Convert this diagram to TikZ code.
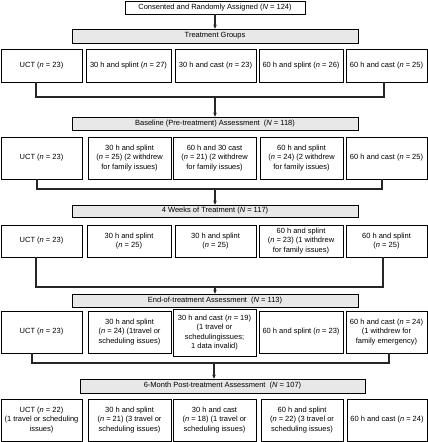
\documentclass[tikz,border=0pt]{standalone}
\usepackage{fontspec}
\setmainfont{Liberation Sans}
\usetikzlibrary{shadows,arrows.meta}
\begin{document}
\begin{tikzpicture}[x=1pt,y=-1pt,
  box/.style={draw=black,line width=0.5pt,fill=white,inner sep=1pt,align=center,
    font=\fontsize{7.5}{9.4}\selectfont,
    drop shadow={shadow xshift=0.6pt,shadow yshift=-0.6pt,fill=black,opacity=1}},
  hdr/.style={box,fill=black!9},
  link/.style={line width=1.1pt,draw=black!85},
  arr/.style={link,-{Stealth[length=4pt,width=3.5pt]}}]
\useasboundingbox (0,0) rectangle (428,442);
\newcommand{\nn}{\textit{n}}
\newcommand{\NN}{\textit{N}}
% top
\node[box,minimum width=180,minimum height=13] (top) at (215,7.5) {Consented and Randomly Assigned (\NN{} = 124)};
\node[hdr,minimum width=286,minimum height=14] (tg) at (215,36) {Treatment Groups};
\draw[arr] (top.south) -- (tg.north);
% row 1
\node[box,minimum width=81,minimum height=33] (a1) at (41.5,65.5) {UCT (\nn{} = 23)};
\node[box,minimum width=85,minimum height=33] (a2) at (128.5,65.5) {30 h and splint (\nn{} = 27)};
\node[box,minimum width=81,minimum height=33] (a3) at (215.5,65.5) {30 h and cast (\nn{} = 23)};
\node[box,minimum width=84,minimum height=33] (a4) at (301,65.5) {60 h and splint (\nn{} = 26)};
\node[box,minimum width=81,minimum height=33] (a5) at (386.5,65.5) {60 h and cast (\nn{} = 25)};
\node[hdr,minimum width=286,minimum height=13] (bl) at (215,123.5) {Baseline (Pre-treatment) Assessment\ \ (\NN{} = 118)};
\coordinate (j1) at (215,97);
\draw[link] ([xshift=-5.5pt]a1.south) |- (j1) -| ([xshift=-2.5pt]a5.south);
\draw[arr] (j1) -- (bl.north);
% row 2
\node[box,minimum width=81,minimum height=42] (b1) at (41.5,158) {UCT (\nn{} = 23)};
\node[box,minimum width=83,minimum height=42] (b2) at (129.5,158) {30 h and splint\\(\nn{} = 25) (2 withdrew\\for family issues)};
\node[box,minimum width=83,minimum height=42] (b3) at (214.5,158) {60 h and 30 cast\\(\nn{} = 21) (2 withdrew\\for family issues)};
\node[box,minimum width=83,minimum height=42] (b4) at (301.5,158) {60 h and splint\\(\nn{} = 24) (2 withdrew\\for family issues)};
\node[box,minimum width=81,minimum height=42] (b5) at (386.5,158) {60 h and cast (\nn{} = 25)};
\node[hdr,minimum width=286,minimum height=12] (fw) at (215,211) {4 Weeks of Treatment (\NN{} = 117)};
\coordinate (j2) at (215,189);
\draw[link] ([xshift=-4.5pt]b1.south) |- (j2) -| ([xshift=-4.5pt]b5.south);
\draw[arr] (j2) -- (fw.north);
% row 3
\node[box,minimum width=81,minimum height=32] (c1) at (41.5,241) {UCT (\nn{} = 23)};
\node[box,minimum width=84,minimum height=32] (c2) at (129,241) {30 h and splint\\(\nn{} = 25)};
\node[box,minimum width=81,minimum height=32] (c3) at (215.5,241) {30 h and splint\\(\nn{} = 25)};
\node[box,minimum width=84,minimum height=32] (c4) at (301,241) {60 h and splint\\(\nn{} = 23) (1 withdrew\\for family issues)};
\node[box,minimum width=81,minimum height=32] (c5) at (386.5,241) {60 h and splint\\(\nn{} = 25)};
\node[hdr,minimum width=286,minimum height=13] (et) at (215,300.5) {End-of-treatment Assessment\ \ (\NN{} = 113)};
\coordinate (j3) at (215,287);
\draw[link] ([xshift=-5.5pt]c1.south) |- (j3) -| ([xshift=-3.5pt]c5.south);
\draw[arr] (j3) -- (et.north);
% row 4
\node[box,minimum width=81,minimum height=42] (d1) at (41.5,332) {UCT (\nn{} = 23)};
\node[box,minimum width=83,minimum height=42] (d2) at (129.5,332) {30 h and splint\\(\nn{} = 24) (1travel or\\scheduling issues)};
\node[box,minimum width=83,minimum height=47] (d3) at (214.5,332.5) {30 h and cast (\nn{} = 19)\\(1 travel or\\schedulingissues;\\1 data invalid)};
\node[box,minimum width=84,minimum height=42] (d4) at (301,332) {60 h and splint (\nn{} = 23)};
\node[box,minimum width=81,minimum height=42] (d5) at (386.5,332) {60 h and cast (\nn{} = 24)\\(1 withdrew for\\family emergency)};
\node[hdr,minimum width=285,minimum height=14] (sm) at (222.5,386) {6-Month Post-treatment Assessment\ \ (\NN{} = 107)};
\coordinate (j4) at (214,363);
\draw[link] ([xshift=-9.5pt]d1.south) |- (j4) -| ([xshift=2.5pt]d5.south);
\draw[arr] (j4) -- (j4 |- sm.north);
% row 5
\node[box,minimum width=81,minimum height=42] (e1) at (41.5,420) {UCT (\nn{} = 22)\\(1 travel or scheduling\\issues)};
\node[box,minimum width=83,minimum height=42] (e2) at (129.5,420) {30 h and splint\\(\nn{} = 21) (3 travel or\\scheduling issues)};
\node[box,minimum width=83,minimum height=42] (e3) at (214.5,420) {30 h and cast\\(\nn{} = 18) (1 travel or\\scheduling issues)};
\node[box,minimum width=82,minimum height=42] (e4) at (302,420) {60 h and splint\\(\nn{} = 22) (3 travel or\\scheduling issues)};
\node[box,minimum width=80,minimum height=42] (e5) at (387,420) {60 h and cast (\nn{} = 24)};
\end{tikzpicture}
\end{document}
